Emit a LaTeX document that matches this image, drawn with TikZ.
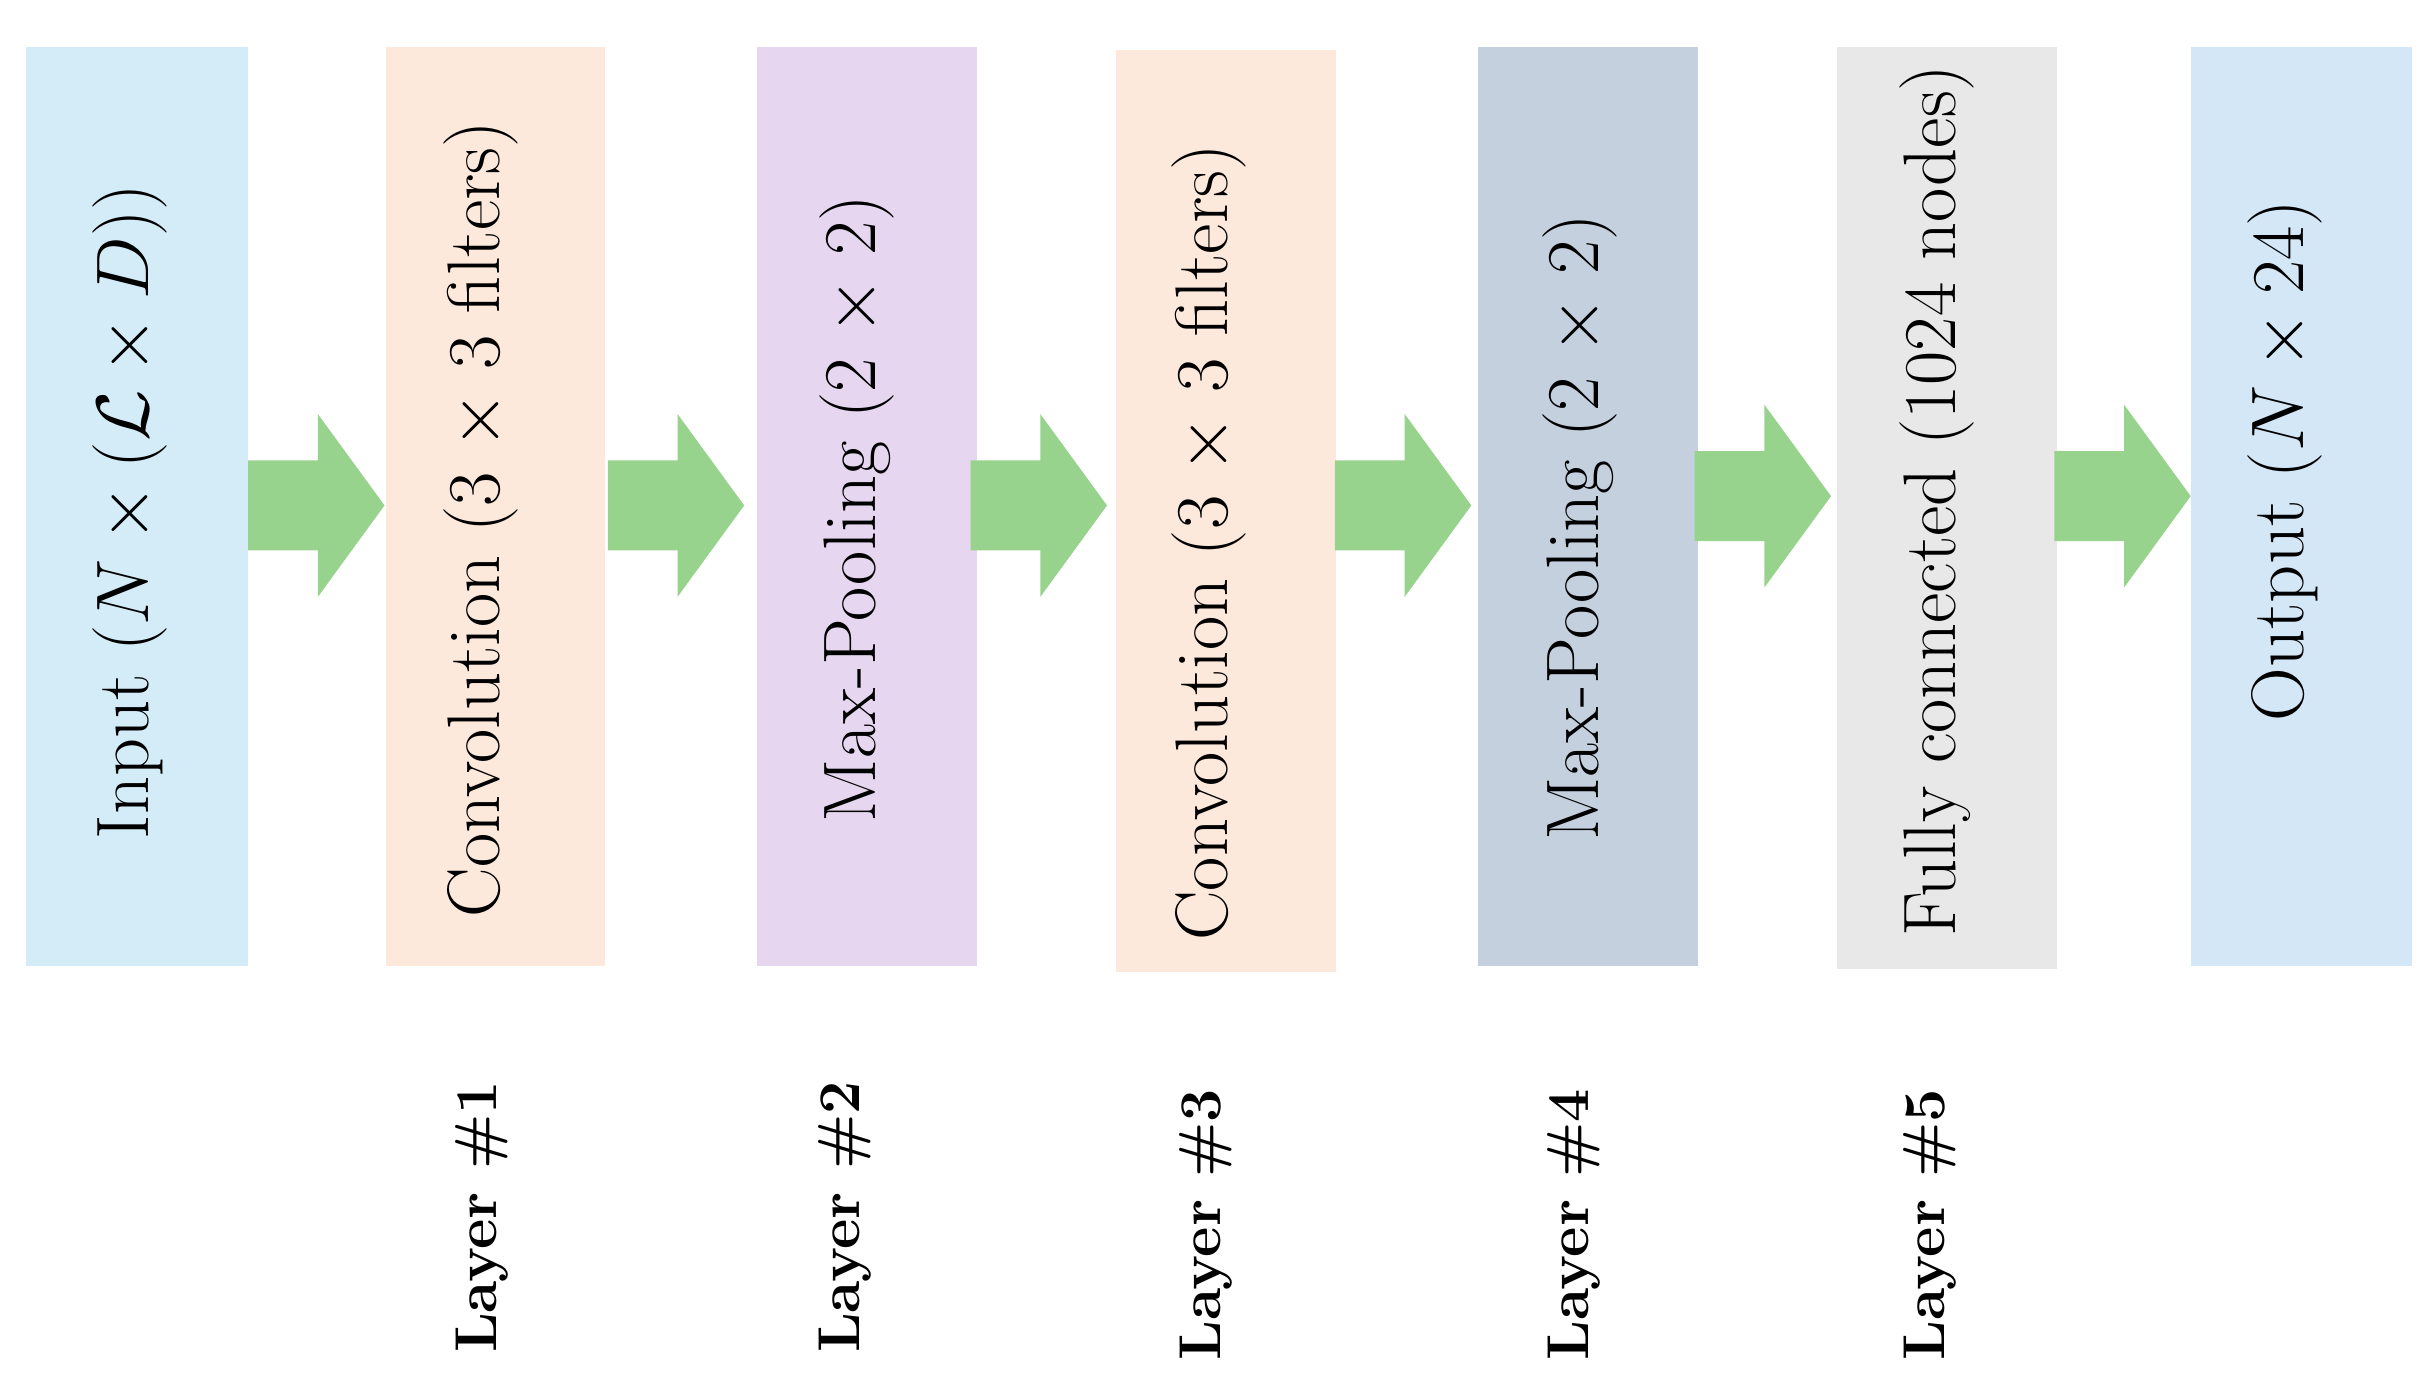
\documentclass[tikz,border=0pt]{standalone}
\usepackage{amsmath}
\newcommand{\bigt}[1]{\scalebox{1.93}{\Huge #1}}
\newcommand{\layt}[1]{\scalebox{1.53}{\Huge\bfseries #1}}
\begin{document}
\begin{tikzpicture}[x=1pt,y=-1pt,
 lab/.style={rotate=90,anchor=center,inner sep=0pt},
 lay/.style={rotate=90,anchor=center,inner sep=0pt}]
\definecolor{arrg}{HTML}{97D38C}
\useasboundingbox (0,0) rectangle (1568,898);
\fill[white] (0,0) rectangle (1568,898);
\definecolor{c1}{HTML}{D3ECF8}\definecolor{c2}{HTML}{FDE9DC}\definecolor{c3}{HTML}{E6D6EF}
\definecolor{c5}{HTML}{C4D0DD}\definecolor{c6}{HTML}{E8E8E8}\definecolor{c7}{HTML}{D3E7F6}
\fill[c1] (17,30) rectangle (160,623);
\fill[c2] (249,30) rectangle (390,623);
\fill[c3] (488,30) rectangle (630,623);
\fill[c2] (720,32) rectangle (862,627);
\fill[c5] (953,30) rectangle (1095,623);
\fill[c6] (1185,30) rectangle (1327,625);
\fill[c7] (1413,30) rectangle (1556,623);
\foreach \a/\c in {160/326,392/326,626/326,861/326,1093/320,1325/320}{
 \fill[arrg] (\a,\c-29) -- (\a+45,\c-29) -- (\a+45,\c-59) -- (\a+88,\c) -- (\a+45,\c+59) -- (\a+45,\c+29) -- (\a,\c+29) -- cycle;}
\node[lab] (t1) at (84,330) {\bigt{Input ($N\times(\mathcal{L}\times D)$)}};
\node[lab] (t2) at (310,335) {\bigt{Convolution (3 $\times$ 3 filters)}};
\node[lab] (t3) at (553,328) {\bigt{Max-Pooling (2 $\times$ 2)}};
\node[lab] (t4) at (780,350) {\bigt{Convolution (3 $\times$ 3 filters)}};
\node[lab] (t5) at (1019,340) {\bigt{Max-Pooling (2 $\times$ 2)}};
\node[lab] (t6) at (1249,323) {\bigt{Fully connected (1024 nodes)}};
\node[lab] (t7) at (1474,297) {\bigt{Output ($N\times24$)}};
\node[lay] (l1) at (311,785) {\layt{Layer \#1}};
\node[lay] (l2) at (545,785) {\layt{Layer \#2}};
\node[lay] (l3) at (778,790) {\layt{Layer \#3}};
\node[lay] (l4) at (1015,790) {\layt{Layer \#4}};
\node[lay] (l5) at (1245,790) {\layt{Layer \#5}};
\end{tikzpicture}
\end{document}
